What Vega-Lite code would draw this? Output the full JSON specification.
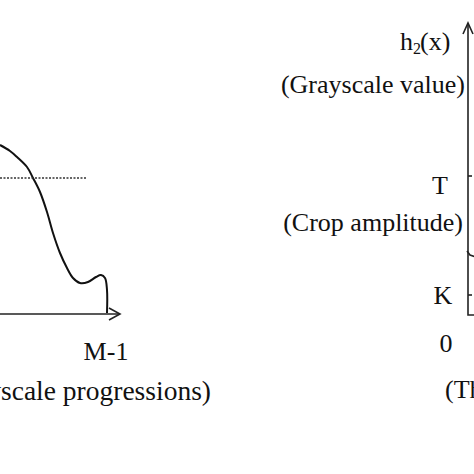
{
  "$schema": "https://vega.github.io/schema/vega-lite/v6.json",
  "width": 474,
  "height": 474,
  "padding": 0,
  "autosize": {"type": "none"},
  "background": "white",
  "config": {"view": {"stroke": null}},
  "datasets": {
    "curve": [
      {"o": 0, "x": 0, "y": 145}, {"o": 1, "x": 10, "y": 151}, {"o": 2, "x": 17, "y": 157},
      {"o": 3, "x": 27, "y": 167}, {"o": 4, "x": 33, "y": 178}, {"o": 5, "x": 40, "y": 192},
      {"o": 6, "x": 47, "y": 212}, {"o": 7, "x": 53, "y": 233}, {"o": 8, "x": 60, "y": 253},
      {"o": 9, "x": 67, "y": 268}, {"o": 10, "x": 73, "y": 278}, {"o": 11, "x": 80, "y": 283},
      {"o": 12, "x": 88, "y": 282}, {"o": 13, "x": 96, "y": 277}, {"o": 14, "x": 101, "y": 275},
      {"o": 15, "x": 105, "y": 278}, {"o": 16, "x": 107, "y": 290}, {"o": 17, "x": 107, "y": 313}
    ],
    "dotted": [{"o": 0, "x": 0, "y": 178}, {"o": 1, "x": 87, "y": 178}],
    "segs": [
      {"s": "la", "o": 0, "x": 0, "y": 314}, {"s": "la", "o": 1, "x": 120, "y": 314},
      {"s": "lh", "o": 0, "x": 109, "y": 308}, {"s": "lh", "o": 1, "x": 120, "y": 314}, {"s": "lh", "o": 2, "x": 109, "y": 320},
      {"s": "ra", "o": 0, "x": 468, "y": 24}, {"s": "ra", "o": 1, "x": 468, "y": 315}, {"s": "ra", "o": 2, "x": 476, "y": 315},
      {"s": "rh", "o": 0, "x": 463, "y": 34}, {"s": "rh", "o": 1, "x": 468, "y": 23}, {"s": "rh", "o": 2, "x": 473, "y": 34},
      {"s": "tt", "o": 0, "x": 468, "y": 176}, {"s": "tt", "o": 1, "x": 472, "y": 176},
      {"s": "kt", "o": 0, "x": 468, "y": 295}, {"s": "kt", "o": 1, "x": 472, "y": 295},
      {"s": "hk", "o": 0, "x": 467, "y": 251}, {"s": "hk", "o": 1, "x": 470, "y": 255}, {"s": "hk", "o": 2, "x": 476, "y": 257}
    ],
    "tcenter": [
      {"t": "M-1", "x": 106, "y": 352}, {"t": "T", "x": 440, "y": 186},
      {"t": "K", "x": 443, "y": 296}, {"t": "0", "x": 446, "y": 344}
    ],
    "tright": [
      {"t": "(Grayscale value)", "x": 465, "y": 85},
      {"t": "(Crop amplitude)", "x": 463, "y": 223}
    ],
    "tprog": [
      {"t": "(Grayscale progressions)", "x": 211, "y": 392}
    ],
    "tleft": [
      {"t": "h", "x": 400, "y": 42}, {"t": "(x)", "x": 420, "y": 42},
      {"t": "(Threshold)", "x": 445, "y": 390}
    ],
    "tsub": [{"t": "2", "x": 413, "y": 49}]
  },
  "encoding": {
    "x": {"field": "x", "type": "quantitative", "scale": {"domain": [0, 474], "nice": false, "zero": false}, "axis": null},
    "y": {"field": "y", "type": "quantitative", "scale": {"domain": [0, 474], "nice": false, "zero": false, "reverse": true}, "axis": null}
  },
  "layer": [
    {
      "data": {"name": "curve"},
      "mark": {"type": "line", "interpolate": "catmull-rom", "color": "#111", "strokeWidth": 2},
      "encoding": {"order": {"field": "o", "type": "quantitative"}}
    },
    {
      "data": {"name": "dotted"},
      "mark": {"type": "line", "color": "#333", "strokeWidth": 1.5, "strokeDash": [2, 1.5]},
      "encoding": {"order": {"field": "o", "type": "quantitative"}}
    },
    {
      "data": {"name": "segs"},
      "mark": {"type": "line", "color": "#222", "strokeWidth": 1.6},
      "encoding": {"detail": {"field": "s", "type": "nominal"}, "order": {"field": "o", "type": "quantitative"}}
    },
    {
      "data": {"name": "tcenter"},
      "mark": {"type": "text", "font": "Liberation Serif", "fontSize": 26, "align": "center", "baseline": "middle", "color": "#111"},
      "encoding": {"text": {"field": "t"}}
    },
    {
      "data": {"name": "tright"},
      "mark": {"type": "text", "font": "Liberation Serif", "fontSize": 26, "align": "right", "baseline": "middle", "color": "#111"},
      "encoding": {"text": {"field": "t"}}
    },
    {
      "data": {"name": "tprog"},
      "mark": {"type": "text", "font": "Liberation Serif", "fontSize": 27.5, "align": "right", "baseline": "middle", "color": "#111"},
      "encoding": {"text": {"field": "t"}}
    },
    {
      "data": {"name": "tleft"},
      "mark": {"type": "text", "font": "Liberation Serif", "fontSize": 26, "align": "left", "baseline": "middle", "color": "#111"},
      "encoding": {"text": {"field": "t"}}
    },
    {
      "data": {"name": "tsub"},
      "mark": {"type": "text", "font": "Liberation Serif", "fontSize": 16, "align": "left", "baseline": "middle", "color": "#111"},
      "encoding": {"text": {"field": "t"}}
    }
  ]
}
